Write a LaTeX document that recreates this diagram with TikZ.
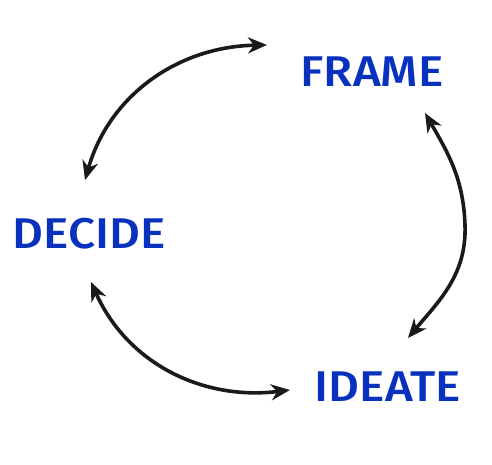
\documentclass[tikz,border=0pt]{standalone}
\usepackage{fontspec}
\newfontfamily\stagefont{Fira Sans Medium}[FakeStretch=1.11]
\usetikzlibrary{arrows.meta}
\definecolor{stageblue}{RGB}{8,50,190}
\definecolor{arcblack}{RGB}{26,26,26}

\begin{document}
\begin{tikzpicture}[x=1pt,y=1pt,<->,>={Stealth[length=19pt,width=16pt,inset=6pt]},
				line width=3.6pt,draw=arcblack]
				\tikzstyle{stage}=[text=stageblue,font=\stagefont\fontsize{43}{43}\selectfont,inner sep=0pt]
				\useasboundingbox (0,0) rectangle (492,465);
				
				\node[stage] (F) at (372,393) {FRAME};
				\node[stage] (D) at (89,231)  {DECIDE};
				\node[stage] (I) at (388,78)  {IDEATE};
				
				\coordinate (DF) at (85,285);
				\coordinate (FD) at (267,420);
				\coordinate (FI) at (425,352);
				\coordinate (FIm) at (465,240);
				\coordinate (IF) at (408,127);
				\coordinate (ID) at (290,75);
				\coordinate (DI) at (91,183);
				
				\draw (DF) to[out=74,in=181] (FD);
				\draw (FI) to[out=-60,in=92] (FIm) to[out=-88,in=50] (IF);
				\draw (DI) to[out=-66,in=187] (ID);
\end{tikzpicture}
\end{document}
